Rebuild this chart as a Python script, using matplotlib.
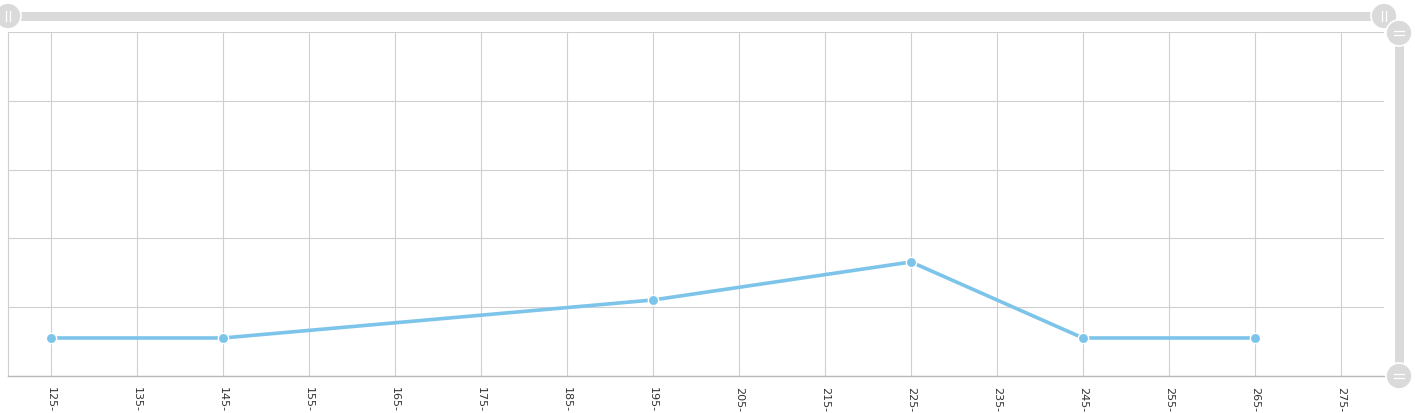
import matplotlib
matplotlib.use("Agg")
import matplotlib.pyplot as plt
import numpy as np
from matplotlib.patches import Circle, FancyBboxPatch

# categories along x (bins 125 .. 275, step 10)
categories = ["125-", "135-", "145-", "155-", "165-", "175-", "185-", "195-",
              "205-", "215-", "225-", "235-", "245-", "255-", "265-", "275-"]
# values, None where the bin has no data (the line connects across gaps)
values = [1, None, 1, None, None, None, None, 2,
          None, None, 3, None, 1, None, 1, None]

W, H = 1415, 414
fig = plt.figure(figsize=(W / 100, H / 100), dpi=100)

# plot area in pixel coordinates
left, right, top, bottom = 8, 1384, 33, 377
ax = fig.add_axes([left / W, 1 - bottom / H, (right - left) / W, (bottom - top) / H])

x = np.arange(len(categories))
pts = [(i, v) for i, v in zip(x, values) if v is not None]
px = [p[0] for p in pts]
py = [p[1] for p in pts]

line_color = "#7cc4e9"
ax.plot(px, py, color=line_color, lw=2.6, zorder=3, solid_capstyle="round")
ax.scatter(px, py, s=55, color=line_color, edgecolors="white", linewidths=1.0, zorder=4)

ax.set_xlim(-0.5, len(categories) - 0.5)
ax.set_ylim(0, 9.05)
ax.set_xticks(x)
ax.set_xticklabels(categories, rotation=-90, fontsize=8, color="#333333",
                   family="DejaVu Sans")
ax.set_yticks(np.linspace(0, 9.05, 6))
ax.set_yticklabels([])
ax.tick_params(axis="x", length=0, pad=7)
ax.tick_params(axis="y", length=0)
ax.grid(True, color="#d0d0d0", lw=0.8)
ax.set_axisbelow(True)
for side in ["top", "right"]:
    ax.spines[side].set_visible(False)
ax.spines["left"].set_color("#d0d0d0")
ax.spines["left"].set_linewidth(0.8)
ax.spines["bottom"].set_color("#b8b8b8")
ax.spines["bottom"].set_linewidth(1.0)

# data-zoom sliders drawn in figure pixel space
slider_color = "#dadada"
ov = fig.add_axes([0, 0, 1, 1], facecolor="none")
ov.set_xlim(0, W)
ov.set_ylim(H, 0)
ov.axis("off")

# horizontal slider
ov.add_patch(FancyBboxPatch((8, 13), 1376, 9, boxstyle="round,pad=0,rounding_size=2",
                            fc=slider_color, ec="none"))
for cx in (8, 1384):
    ov.add_patch(Circle((cx, 17), 13, fc=slider_color, ec="white", lw=1.2))
    ov.plot([cx - 2, cx - 2], [12, 22], color="white", lw=0.9)
    ov.plot([cx + 2, cx + 2], [12, 22], color="white", lw=0.9)

# vertical slider
ov.add_patch(FancyBboxPatch((1395, 33), 9, 344, boxstyle="round,pad=0,rounding_size=2",
                            fc=slider_color, ec="none"))
for cy in (34, 377):
    ov.add_patch(Circle((1399, cy), 13, fc=slider_color, ec="white", lw=1.2))
    ov.plot([1394, 1404], [cy - 2, cy - 2], color="white", lw=0.9)
    ov.plot([1394, 1404], [cy + 2, cy + 2], color="white", lw=0.9)

fig.savefig("out.png", dpi=100)
